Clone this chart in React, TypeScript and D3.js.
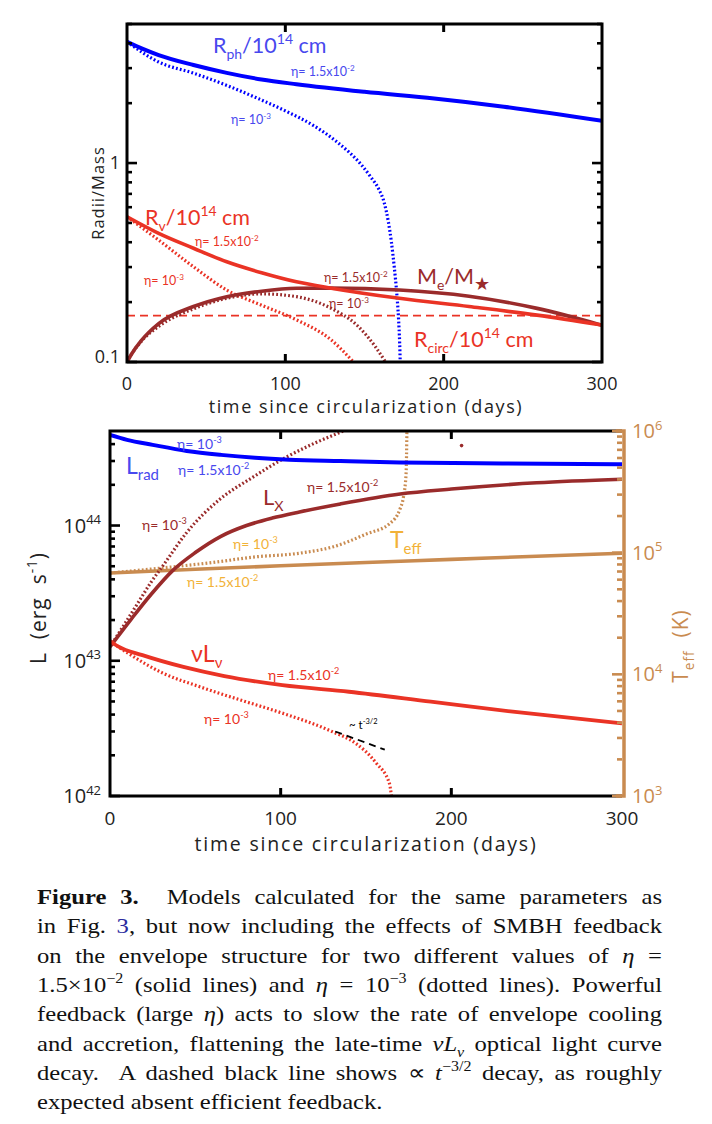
import { useLayoutEffect, useRef } from "react";
import * as d3 from "d3";

type Pt = [number, number];

// ---- upper panel: radii and envelope mass vs. days ----
const rPhStrong: Pt[] = [[0, 4.07], [10, 3.75], [20, 3.49], [42, 3.11], [63, 2.84], [85, 2.63], [107, 2.49], [150, 2.28], [194, 2.11], [238, 1.92], [300, 1.63]];
const rPhWeak: Pt[] = [[0, 4.07], [20, 3.22], [42, 2.83], [64, 2.44], [81, 2.14], [100, 1.83], [118, 1.54], [133, 1.27], [148, 0.98], [154, 0.85], [159, 0.74], [162.5, 0.63], [165, 0.51], [167, 0.4], [168.8, 0.3], [170.3, 0.225], [171.5, 0.165], [172.2, 0.125], [172.6, 0.097]];
const rVStrong: Pt[] = [[0, 0.537], [20, 0.443], [42, 0.373], [63, 0.319], [85, 0.281], [107, 0.253], [129, 0.235], [172, 0.209], [216, 0.19], [259, 0.172], [300, 0.1535]];
const rVWeak: Pt[] = [[0, 0.537], [20, 0.41], [42, 0.301], [63, 0.23], [85, 0.193], [107, 0.163], [129, 0.129], [142, 0.102], [144, 0.098]];
const mEnvStrong: Pt[] = [[0, 0.1], [3, 0.11], [9, 0.128], [20, 0.156], [42, 0.19], [63, 0.213], [85, 0.227], [107, 0.2346], [129, 0.2351], [172, 0.23], [216, 0.214], [259, 0.186], [300, 0.153]];
const mEnvWeak: Pt[] = [[0, 0.1], [3, 0.11], [9, 0.127], [20, 0.151], [42, 0.185], [63, 0.209], [85, 0.22], [107, 0.213], [129, 0.186], [146, 0.151], [157, 0.119], [163.6, 0.099]];
const rCirc: Pt[] = [[0, 0.171], [300, 0.171]];

// ---- lower panel: luminosities (left axis) and Teff (right axis) ----
const lRad: Pt[] = [[0, 4.67e44], [10, 4.3e44], [25, 3.95e44], [45, 3.56e44], [65, 3.33e44], [85, 3.17e44], [105, 3.07e44], [135, 3.0e44], [170, 2.93e44], [230, 2.88e44], [300, 2.84e44]];
const lxStrong: Pt[] = [[0, 1.27e43], [12, 2.0e43], [24, 3.09e43], [37, 4.68e43], [50, 6.31e43], [65, 8.32e43], [80, 1.0e44], [95, 1.135e44], [111, 1.26e44], [135, 1.445e44], [170, 1.71e44], [200, 1.86e44], [250, 2.07e44], [300, 2.2e44]];
const lxWeak: Pt[] = [[0, 1.27e43], [8, 1.82e43], [16, 2.63e43], [24, 3.8e43], [32, 5.25e43], [45, 8.9e43], [64, 1.55e44], [84, 2.29e44], [104, 3.24e44], [120, 4.07e44], [135, 4.9e44], [150, 5.9e44]];
const teffStrong: Pt[] = [[0, 6.8e4], [50, 7.3e4], [100, 7.8e4], [150, 8.3e4], [200, 8.8e4], [250, 9.35e4], [300, 9.9e4]];
const teffWeak: Pt[] = [[0, 6.8e4], [35, 7.6e4], [60, 8.3e4], [84, 9.2e4], [111, 9.9e4], [131, 1.12e5], [150, 1.42e5], [164, 1.74e5], [170, 2.3e5], [172, 2.9e5], [173.5, 4.5e5], [174, 1.1e6]];
const nuLnuStrong: Pt[] = [[0, 1.4e43], [5, 1.27e43], [19, 1.1e43], [43, 9.0e42], [67, 7.7e42], [101, 6.6e42], [140, 5.9e42], [188, 4.98e42], [236, 4.2e42], [300, 3.45e42]];
const nuLnuWeak: Pt[] = [[0, 1.4e43], [10, 1.15e43], [31, 8.1e42], [53, 6.4e42], [77, 5.1e42], [101, 4.1e42], [130, 3.0e42], [144, 2.45e42], [156, 1.75e42], [163.7, 1.24e42], [165, 0.98e42]];
const powerLawGuide: Pt[] = [[132, 3.0e42], [161, 2.2e42]];
const strayPoint: Pt = [206, 3.9e44];

const dayTicks = [0, 100, 200, 300];

const W = 712;
const H = 1124;
const up = { left: 127, right: 602, top: 24, bottom: 362 };
const lo = { left: 110, right: 622, top: 431, bottom: 796 };

const BLUE = "#0000ff";
const BLUE_TXT = "#4848ee";
const RED = "#ea3325";
const DKRED = "#9a2b2b";
const TAN = "#c98b50";
const GOLD = "#f2b238";

const axisFont = "'Open Sans', sans-serif";
const annoFont = "Lato, 'Open Sans', sans-serif";
const capFont = "'Liberation Serif', serif";

type Seg = { t: string; sup?: boolean; sub?: boolean; i?: boolean; b?: boolean; c?: string; s?: number };

// tspans with raised / lowered pieces; dy is undone on the next piece
function spans(parts: Seg[], size: number) {
  let shift = 0;
  return parts.map((p, k) => {
    const target = p.sup ? -size * 0.42 : p.sub ? size * 0.28 : 0;
    const dy = target - shift;
    shift = target;
    return (
      <tspan key={k} dy={dy} fontSize={p.s ?? (p.sup || p.sub ? size * 0.65 : size)}
        fontStyle={p.i ? "italic" : undefined} fontWeight={p.b ? "bold" : undefined} fill={p.c}>
        {p.t}
      </tspan>
    );
  });
}

function Rich(props: {
  x: number; y: number; size: number; fill?: string; parts: Seg[]; anchor?: string;
  font?: string; transform?: string; spacing?: number;
}) {
  const { x, y, size, fill = "#000", parts, anchor = "start", font = annoFont, transform, spacing } = props;
  return (
    <text x={x} y={y} fontSize={size} fill={fill} fontFamily={font} textAnchor={anchor}
      transform={transform} letterSpacing={spacing} style={{ whiteSpace: "pre" }}>
      {spans(parts, size)}
    </text>
  );
}

function Eta({ x, y, mant, exp, fill, size = 12 }: { x: number; y: number; mant?: string; exp: string; fill: string; size?: number }) {
  return <Rich x={x} y={y} size={size} fill={fill} parts={[{ t: `η= ${mant ? mant + "x" : ""}10` }, { t: exp, sup: true }]} />;
}

// caption line, justified by widening the word gaps
function CaptionLine({ y, parts, width, size }: { y: number; parts: Seg[]; width?: number; size: number }) {
  const ref = useRef<SVGTextElement>(null);
  useLayoutEffect(() => {
    const el = ref.current;
    if (!el || !width) return;
    el.style.wordSpacing = "0px";
    const len = el.getComputedTextLength();
    const gaps = (el.textContent || "").split(" ").length - 1;
    if (gaps > 0) el.style.wordSpacing = `${(width - len) / gaps}px`;
  }, [width]);
  return (
    <text ref={ref} x={0} y={y} fontSize={size} fill="#111" fontFamily={capFont} style={{ whiteSpace: "pre" }}>
      {spans(parts, size)}
    </text>
  );
}

const captionLines: Seg[][] = [
  [{ t: "Figure 3.", b: true }, { t: "  Models calculated for the same parameters as" }],
  [{ t: "in Fig. " }, { t: "3", c: "#2b2b9e" }, { t: ", but now including the effects of SMBH feedback" }],
  [{ t: "on the envelope structure for two different values of " }, { t: "η", i: true }, { t: " =" }],
  [{ t: "1.5×10" }, { t: "−2", sup: true }, { t: " (solid lines) and " }, { t: "η", i: true }, { t: " = 10" }, { t: "−3", sup: true }, { t: " (dotted lines). Powerful" }],
  [{ t: "feedback (large " }, { t: "η", i: true }, { t: ") acts to slow the rate of envelope cooling" }],
  [{ t: "and accretion, flattening the late-time " }, { t: "νL", i: true }, { t: "ν", i: true, sub: true }, { t: " optical light curve" }],
  [{ t: "decay.  A dashed black line shows ∝ " }, { t: "t", i: true }, { t: "−3/2", sup: true }, { t: " decay, as roughly" }],
  [{ t: "expected absent efficient feedback." }],
];

const isDecade = (v: number) => Math.abs(Math.log10(v) - Math.round(Math.log10(v))) < 1e-6;

export default function App() {
  const xUp = d3.scaleLinear().domain([0, 300]).range([up.left, up.right]);
  const yUp = d3.scaleLog().domain([0.1, 5]).range([up.bottom, up.top]);
  const xLo = d3.scaleLinear().domain([0, 300]).range([lo.left, lo.right]);
  const yLum = d3.scaleLog().domain([1e42, 5e44]).range([lo.bottom, lo.top]);
  const yTeff = d3.scaleLog().domain([1e3, 1e6]).range([lo.bottom, lo.top]);

  const lineUp = d3.line<Pt>().x((d) => xUp(d[0])).y((d) => yUp(d[1])).curve(d3.curveMonotoneX);
  const lineLum = d3.line<Pt>().x((d) => xLo(d[0])).y((d) => yLum(d[1])).curve(d3.curveMonotoneX);
  const lineTeff = d3.line<Pt>().x((d) => xLo(d[0])).y((d) => yTeff(d[1])).curve(d3.curveMonotoneX);

  const dotted = "1.8,2.2";
  const FR = 3;

  // y ticks on a log axis, pointing inward from a given edge
  const logTicks = (scale: d3.ScaleLogarithmic<number, number>, x0: number, dir: number, color: string, key: string) =>
    scale.ticks().map((v, i) => {
      const len = isDecade(v) ? 10 : 5;
      const y = scale(v);
      return <line key={key + i} x1={x0} x2={x0 + dir * len} y1={y} y2={y} stroke={color} strokeWidth={2.6} />;
    });

  const xTicks = (scale: d3.ScaleLinear<number, number>, y0: number, y1: number, key: string) =>
    [100, 200].flatMap((v) => [
      <line key={key + "b" + v} x1={scale(v)} x2={scale(v)} y1={y1} y2={y1 - 8} stroke="#000" strokeWidth={3} />,
      <line key={key + "t" + v} x1={scale(v)} x2={scale(v)} y1={y0} y2={y0 + 8} stroke="#000" strokeWidth={3} />,
    ]);

  const capScale = 1.12;

  return (
    <svg width={W} height={H} viewBox={`0 0 ${W} ${H}`} style={{ position: "absolute", left: 0, top: 0, background: "#fff" }}>
      <defs>
        <clipPath id="clipUp">
          <rect x={up.left} y={up.top} width={up.right - up.left} height={up.bottom - up.top} />
        </clipPath>
        <clipPath id="clipLo">
          <rect x={lo.left} y={lo.top} width={lo.right - lo.left + 4} height={lo.bottom - lo.top} />
        </clipPath>
      </defs>

      {/* ================= upper panel ================= */}
      <g clipPath="url(#clipUp)" fill="none">
        <path d={lineUp(rCirc)!} stroke={RED} strokeWidth={1.6} strokeDasharray="8,5" />
        <path d={lineUp(rPhWeak)!} stroke={BLUE} strokeWidth={3.2} strokeDasharray={dotted} />
        <path d={lineUp(rVWeak)!} stroke={RED} strokeWidth={3.2} strokeDasharray={dotted} />
        <path d={lineUp(mEnvWeak)!} stroke={DKRED} strokeWidth={3.2} strokeDasharray={dotted} />
        <path d={lineUp(mEnvStrong)!} stroke={DKRED} strokeWidth={3.6} />
        <path d={lineUp(rVStrong)!} stroke={RED} strokeWidth={3.6} />
        <path d={lineUp(rPhStrong)!} stroke={BLUE} strokeWidth={4} />
      </g>
      <rect x={up.left} y={up.top} width={up.right - up.left} height={up.bottom - up.top} fill="none" stroke="#000" strokeWidth={FR} />
      {logTicks(yUp, up.left, 1, "#000", "ul")}
      {logTicks(yUp, up.right, -1, "#000", "ur")}
      {xTicks(xUp, up.top, up.bottom, "ux")}

      <g fontFamily={axisFont} fontSize={18} fill="#222">
        {dayTicks.map((v) => (
          <text key={"uxl" + v} x={xUp(v)} y={390} textAnchor="middle">{v}</text>
        ))}
        <text x={120} y={169} textAnchor="end">1</text>
        <text x={120} y={363} textAnchor="end">0.1</text>
      </g>
      <text x={366} y={413} textAnchor="middle" fontFamily={axisFont} fontSize={18} letterSpacing={1.6} fill="#222">
        time since circularization (days)
      </text>
      <text transform="translate(104,193) rotate(-90)" textAnchor="middle" fontFamily={axisFont} fontSize={16.5} letterSpacing={1} fill="#222">
        Radii/Mass
      </text>

      <Rich x={213} y={53} size={21.5} fill={BLUE_TXT} parts={[{ t: "R" }, { t: "ph", sub: true }, { t: "/10" }, { t: "14", sup: true }, { t: " cm" }]} />
      <Eta x={291} y={76} mant="1.5" exp="-2" fill={BLUE_TXT} size={12.5} />
      <Eta x={231} y={124} exp="-3" fill={BLUE_TXT} size={12.5} />
      <Rich x={145} y={225} size={21.5} fill={RED} parts={[{ t: "R" }, { t: "v", sub: true }, { t: "/10" }, { t: "14", sup: true }, { t: " cm" }]} />
      <Eta x={195} y={246} mant="1.5" exp="-2" fill={RED} size={12.5} />
      <Eta x={144} y={285} exp="-3" fill={RED} size={12.5} />
      <Eta x={324} y={282} mant="1.5" exp="-2" fill={DKRED} size={12.5} />
      <Eta x={329} y={308} exp="-3" fill={DKRED} size={12.5} />
      <Rich x={417} y={284} size={21.5} fill={DKRED} parts={[{ t: "M" }, { t: "e", sub: true }, { t: "/M" }, { t: "★", sub: true, s: 18 }]} />
      <Rich x={414} y={347} size={21.5} fill={RED} parts={[{ t: "R" }, { t: "circ", sub: true }, { t: "/10" }, { t: "14", sup: true }, { t: " cm" }]} />

      {/* ================= lower panel ================= */}
      <g clipPath="url(#clipLo)" fill="none">
        <path d={lineTeff(teffWeak)!} stroke={TAN} strokeWidth={3.2} strokeDasharray={dotted} />
        <path d={lineTeff(teffStrong)!} stroke={TAN} strokeWidth={3.6} />
        <path d={lineLum(lxWeak)!} stroke={DKRED} strokeWidth={3.2} strokeDasharray={dotted} />
        <path d={lineLum(lxStrong)!} stroke={DKRED} strokeWidth={3.6} />
        <path d={lineLum(nuLnuWeak)!} stroke={RED} strokeWidth={3.2} strokeDasharray={dotted} />
        <path d={lineLum(nuLnuStrong)!} stroke={RED} strokeWidth={3.8} />
        <path d={lineLum(lRad)!} stroke={BLUE} strokeWidth={4} />
        <path d={lineLum(powerLawGuide)!} stroke="#000" strokeWidth={1.8} strokeDasharray="7,5" />
        <circle cx={xLo(strayPoint[0])} cy={yLum(strayPoint[1])} r={1.8} fill={DKRED} />
      </g>
      <path d={`M${lo.right},${lo.top}H${lo.left}V${lo.bottom}H${lo.right}`} fill="none" stroke="#000" strokeWidth={FR} />
      <path d={`M${lo.right - 6},${lo.top}H${lo.right + 2}V${lo.bottom}H${lo.right - 6}`} fill="none" stroke={TAN} strokeWidth={FR + 0.5} />
      {logTicks(yLum, lo.left, 1, "#000", "ll")}
      {logTicks(yTeff, lo.right, -1, TAN, "lr")}
      {xTicks(xLo, lo.top, lo.bottom, "lx")}

      <g fontFamily={axisFont} fontSize={19} fill="#222">
        {dayTicks.map((v) => (
          <text key={"lxl" + v} x={xLo(v)} y={825} textAnchor="middle">{v}</text>
        ))}
      </g>
      {[42, 43, 44].map((e) => (
        <Rich key={"ly" + e} x={101} y={yLum(Math.pow(10, e)) + 7} size={20} fill="#222" font={axisFont} anchor="end"
          parts={[{ t: "10" }, { t: String(e), sup: true }]} />
      ))}
      {[3, 4, 5, 6].map((e) => (
        <Rich key={"ry" + e} x={632} y={yTeff(Math.pow(10, e)) + 7} size={20} fill={TAN} font={axisFont}
          parts={[{ t: "10" }, { t: String(e), sup: true }]} />
      ))}
      <text x={366} y={851} textAnchor="middle" fontFamily={axisFont} fontSize={19.5} letterSpacing={1.8} fill="#222">
        time since circularization (days)
      </text>
      <Rich x={0} y={0} size={21} spacing={1} fill="#222" font={axisFont} anchor="middle" transform="translate(46,608) rotate(-90)"
        parts={[{ t: "L  (erg  s" }, { t: "-1", sup: true }, { t: ")" }]} />
      <Rich x={0} y={0} size={21} spacing={1} fill={TAN} font={axisFont} anchor="middle" transform="translate(688,646) rotate(-90)"
        parts={[{ t: "T" }, { t: "eff", sub: true }, { t: "  (K)" }]} />

      <Rich x={126} y={474} size={23} fill={BLUE_TXT} parts={[{ t: "L" }, { t: "rad", sub: true }]} />
      <Eta x={177} y={449} exp="-3" fill={BLUE_TXT} size={14} />
      <Eta x={178} y={475} mant="1.5" exp="-2" fill={BLUE_TXT} size={14} />
      <Rich x={263} y={505} size={22} fill={DKRED} parts={[{ t: "L" }, { t: "X", sub: true }]} />
      <Eta x={307} y={492} mant="1.5" exp="-2" fill={DKRED} size={14} />
      <Eta x={142} y={530} exp="-3" fill={DKRED} size={14} />
      <Eta x={233} y={549} exp="-3" fill={GOLD} size={14} />
      <Eta x={187} y={587} mant="1.5" exp="-2" fill={GOLD} size={14} />
      <Rich x={390} y={548} size={23} fill={GOLD} parts={[{ t: "T" }, { t: "eff", sub: true }]} />
      <Rich x={191} y={662} size={23} fill={RED} parts={[{ t: "νL" }, { t: "ν", sub: true }]} />
      <Eta x={268} y={680} mant="1.5" exp="-2" fill={RED} size={14} />
      <Eta x={204} y={724} exp="-3" fill={RED} size={14} />
      <Rich x={349} y={729} size={11.5} fill="#000" parts={[{ t: "~ t" }, { t: "-3/2", sup: true }]} />

      {/* ================= caption ================= */}
      <g transform={`translate(37,0) scale(${capScale},1)`}>
        {captionLines.map((ln, k) => (
          <CaptionLine key={"cap" + k} y={904 + k * 29.3} size={22} parts={ln}
            width={k < captionLines.length - 1 ? 625 / capScale : undefined} />
        ))}
      </g>
    </svg>
  );
}
